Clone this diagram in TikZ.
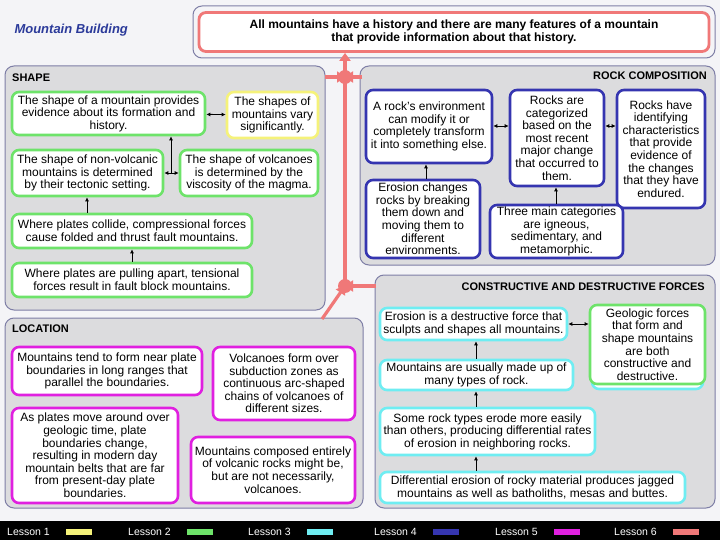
\documentclass[tikz,border=0pt]{standalone}
\usepackage{fontspec}
\setmainfont{Liberation Sans}
\usetikzlibrary{arrows.meta}
\definecolor{bgc}{HTML}{F4F4F7}
\definecolor{panelc}{HTML}{DCDCDE}
\definecolor{paneld}{HTML}{7E7EA6}
\definecolor{lyel}{HTML}{F5F27A}
\definecolor{lgrn}{HTML}{6EE36A}
\definecolor{lcya}{HTML}{6FEDF2}
\definecolor{lblu}{HTML}{3535B0}
\definecolor{lmag}{HTML}{E020E0}
\definecolor{lpnk}{HTML}{F07878}
\definecolor{titc}{HTML}{2B3A9A}
\tikzset{
 panel/.style={draw=paneld, fill=panelc, rounded corners=9pt, line width=1pt},
 bx/.style={draw=#1, fill=white, rounded corners=7pt, line width=2.6pt, align=center, inner sep=1pt,
   font=\fontsize{12}{12.6}\selectfont},
 lbl/.style={font=\bfseries\fontsize{11}{12}\selectfont, inner sep=0pt},
 conn/.style={-{Latex[length=4pt,width=4pt]}, line width=0.9pt, black},
 conn2/.style={{Latex[length=4pt,width=4pt]}-{Latex[length=4pt,width=4pt]}, line width=0.9pt, black},
 big/.style={line width=3.2pt, draw=lpnk, -{Triangle[length=8pt,width=11pt]}},
 leg/.style={text=white, font=\fontsize{10.5}{12}\selectfont, inner sep=0pt, anchor=west},
}
\newcommand{\bxat}[7]{\node[bx=#1, minimum width=#4-#2, minimum height=#5-#3] (#6) at ({(#2+#4)/2},{(#3+#5)/2}) {#7};}
\begin{document}
\begin{tikzpicture}[x=1pt,y=-1pt]
\useasboundingbox (0,0) rectangle (720,540);
\fill[bgc] (0,0) rectangle (720,540);
% title
\node[font=\bfseries\itshape\fontsize{13}{14}\selectfont, text=titc, anchor=west] (ttl) at (11,30) {Mountain Building};
% top box
\draw[paneld, fill=bgc, rounded corners=9pt, line width=1pt] (193,6) rectangle (715,58);
\node[draw=lpnk, line width=2.8pt, fill=white, rounded corners=7pt, minimum width=510, minimum height=39, align=center, font=\bfseries\fontsize{12}{13.5}\selectfont] (top) at (454,32) {All mountains have a history and there are many features of a mountain\\that provide information about that history.};
% panels
\draw[panel] (5,66) rectangle (325,310);
\draw[panel] (360,66) rectangle (715,265);
\draw[panel] (375,275) rectangle (715,508);
\draw[panel] (5,318) rectangle (363,508);
\node[lbl, anchor=west] (lsh) at (12,78) {SHAPE};
\node[lbl, anchor=east] (lrc) at (707,76) {ROCK COMPOSITION};
\node[lbl, anchor=east] (lcd) at (705,287) {CONSTRUCTIVE AND DESTRUCTIVE FORCES};
\node[lbl, anchor=west] (llo) at (12,329) {LOCATION};
% central connectors
\coordinate (d1) at (345,77);
\coordinate (d2) at (345,286);
\coordinate (s1) at (325,77);
\coordinate (s2) at (362,77);
\coordinate (s3) at (376,286);
\coordinate (s4) at (322,319);
\draw[line width=3.2pt, lpnk] (d2) -- (d1);
\draw[big] (d1) -- (top.south -| d1);
\draw[big] (s1) -- (d1);
\draw[big] (s2) -- (d1);
\draw[big] (s3) -- (d2);
\draw[big] (s4) -- (d2);
\fill[lpnk] (d1) circle (7);
\fill[lpnk] (d2) circle (7);
% shape
\bxat{lgrn}{12}{92}{205}{135}{A}{The shape of a mountain provides\\evidence about its formation and\\history.}
\bxat{lyel}{227}{92}{318}{138}{B}{The shapes of\\mountains vary\\significantly.}
\bxat{lgrn}{12}{150}{163}{196}{C}{The shape of non-volcanic\\mountains is determined\\by their tectonic setting.}
\bxat{lgrn}{180}{150}{318}{196}{D}{The shape of volcanoes\\is determined by the\\viscosity of the magma.}
\bxat{lgrn}{12}{214}{252}{248}{E}{Where plates collide, compressional forces\\cause folded and thrust fault mountains.}
\bxat{lgrn}{12}{263}{252}{297}{F}{Where plates are pulling apart, tensional\\forces result in fault block mountains.}
\draw[conn2] (A) -- (B);
\draw[conn2] (C) -- (D);
\coordinate (j1) at (171,173);
\draw[conn] (j1) -- (A.south -| j1);
\draw[conn] (F.north -| 132,0) -- (E.south -| 132,0);
\draw[conn] (E.north -| 87,0) -- (C.south -| 87,0);
% rock
\bxat{lblu}{366}{90}{492}{163}{R1}{A rock's environment\\can modify it or\\completely transform\\it into something else.}
\bxat{lblu}{510}{90}{604}{186}{R2}{Rocks are\\categorized\\based on the\\most recent\\major change\\that occurred to\\them.}
\bxat{lblu}{617}{90}{705}{208}{R3}{Rocks have\\identifying\\characteristics\\that provide\\evidence of\\the changes\\that they have\\endured.}
\bxat{lblu}{366}{180}{480}{258}{R4}{Erosion changes\\rocks by breaking\\them down and\\moving them to\\different\\environments.}
\bxat{lblu}{490}{205}{623}{258}{R5}{Three main categories\\are igneous,\\sedimentary, and\\metamorphic.}
\draw[conn2] (R1.east |- 0,126) -- (R2.west |- 0,126);
\draw[conn2] (R2.east |- 0,126) -- (R3.west |- 0,126);
\draw[conn] (R4.north -| 426,0) -- (R1.south -| 426,0);
\draw[conn] (R5.north -| 556,0) -- (R2.south -| 556,0);
% cdf
\draw[lcya, line width=2.6pt, fill=white, rounded corners=7pt] (592,312) rectangle (703,389);
\bxat{lcya}{380}{308}{567}{340}{C1}{Erosion is a destructive force that\\sculpts and shapes all mountains.}
\bxat{lgrn}{590}{305}{705}{384}{G}{Geologic forces\\that form and\\shape mountains\\are both\\constructive and\\destructive.}
\bxat{lcya}{380}{360}{573}{390}{C2}{Mountains are usually made up of\\many types of rock.}
\bxat{lcya}{380}{408}{595}{455}{C3}{Some rock types erode more easily\\than others, producing differential rates\\of erosion in neighboring rocks.}
\bxat{lcya}{380}{472}{685}{503}{C4}{Differential erosion of rocky material produces jagged\\mountains as well as batholiths, mesas and buttes.}
\draw[conn2] (C1.east |- 0,324) -- (G.west |- 0,324);
\draw[conn] (C2.north -| 476,0) -- (C1.south -| 476,0);
\draw[conn] (C3.north -| 476,0) -- (C2.south -| 476,0);
\draw[conn] (C4.north -| 476,0) -- (C3.south -| 476,0);
% location
\bxat{lmag}{12}{347}{202}{395}{L1}{Mountains tend to form near plate\\boundaries in long ranges that\\parallel the boundaries.}
\bxat{lmag}{213}{347}{355}{420}{L2}{Volcanoes form over\\subduction zones as\\continuous arc-shaped\\chains of volcanoes of\\different sizes.}
\bxat{lmag}{12}{408}{178}{503}{L3}{As plates move around over\\geologic time, plate\\boundaries change,\\resulting in modern day\\mountain belts that are far\\from present-day plate\\boundaries.}
\bxat{lmag}{191}{437}{355}{503}{L4}{Mountains composed entirely\\of volcanic rocks might be,\\but are not necessarily,\\volcanoes.}
% legend
\fill[black] (0,521) rectangle (720,540);
\foreach \x/\c/\n in {7/lyel/1,128/lgrn/2,248/lcya/3,374/lblu/4,495/lmag/5,614/lpnk/6}{
  \node[leg] (g\n) at (\x,532) {Lesson \n};
  \fill[\c] (\x+59,529) rectangle (\x+85,535);
}
\end{tikzpicture}
\end{document}
